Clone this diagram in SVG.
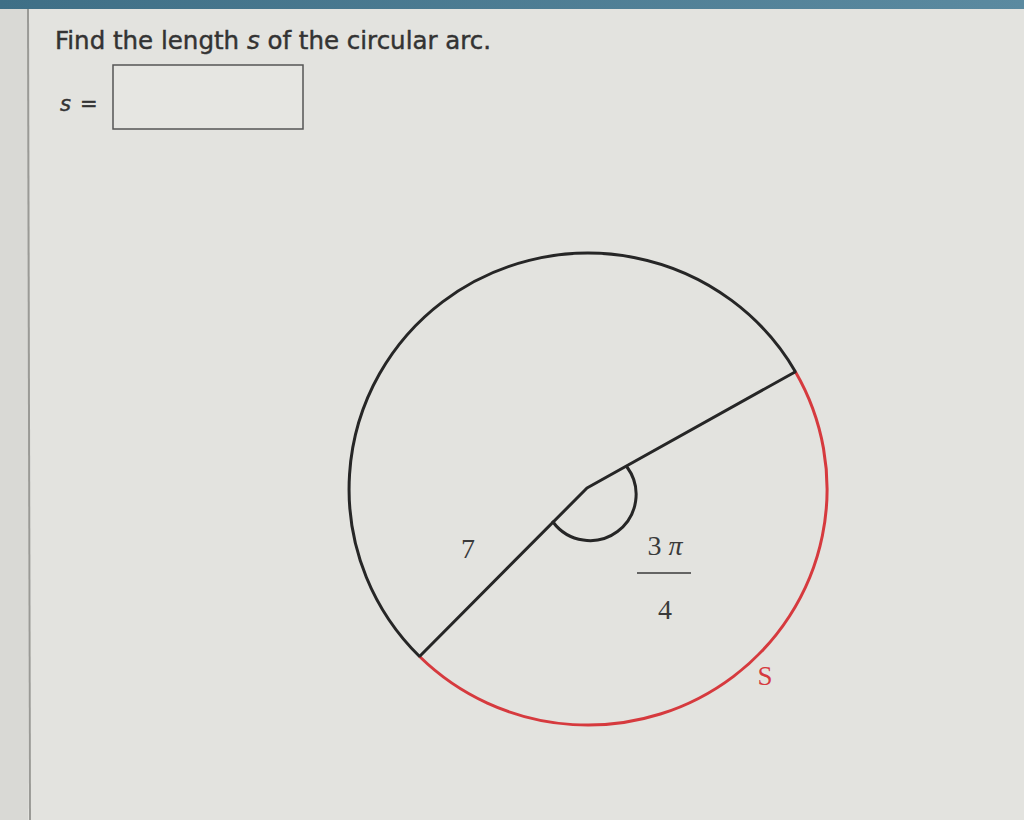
<svg xmlns="http://www.w3.org/2000/svg" width="1024" height="820" viewBox="0 0 1024 820">
<defs>
<linearGradient id="bar" x1="0" y1="0" x2="1" y2="0"><stop offset="0" stop-color="#3f6f86"/><stop offset="1" stop-color="#5b8aa0"/></linearGradient>
<style>
.q{font-family:"DejaVu Sans",Verdana,sans-serif;fill:#333;stroke:#333;stroke-width:0.45}
.m{font-family:"Liberation Serif","DejaVu Serif",serif;fill:#3a3a3a}
.ln{fill:none;stroke:#262626;stroke-width:3;stroke-linecap:round;stroke-linejoin:round}
.red{fill:none;stroke:#d63a3e;stroke-width:3}
</style>
</defs>
<rect x="0" y="0" width="1024" height="820" fill="#e3e3df"/>
<rect x="0" y="0" width="28" height="820" fill="#d9d9d5"/>
<rect x="0" y="0" width="1024" height="9" fill="url(#bar)"/>
<line x1="28" y1="9" x2="30" y2="820" stroke="#9a9a96" stroke-width="2"/>
<g id="question">
<text class="q" x="55" y="49" font-size="24.5">Find the length <tspan font-style="italic">s</tspan> of the circular arc.</text>
<text class="q" x="60" y="111" font-size="21" font-style="italic">s</text>
<text class="q" x="80" y="111" font-size="21">=</text>
<rect x="113" y="65" width="190" height="64" fill="#e6e6e2" stroke="#555" stroke-width="1.5"/>
</g>
<g id="circle">
<path class="ln" d="M419.6,656.5 A239,236 0 1 1 795.4,371.7"/>
<path class="red" d="M795.4,371.7 A239,236 0 0 1 419.6,656.5"/>
</g>
<g id="connectors">
<polyline class="ln" points="420,656 587,488 795,372"/>
<path class="ln" d="M553,522 A46,46 0 0 0 627,467"/>
</g>
<g id="labels">
<text class="m" x="468" y="558" font-size="28" text-anchor="middle">7</text>
<text class="m" x="665" y="555" font-size="28" text-anchor="middle">3 <tspan font-style="italic">π</tspan></text>
<line x1="637" y1="573" x2="691" y2="573" stroke="#3a3a3a" stroke-width="1.5"/>
<text class="m" x="665" y="619" font-size="28" text-anchor="middle">4</text>
<text class="m" x="765" y="685" font-size="27" text-anchor="middle" style="fill:#d63a3e">S</text>
</g>
</svg>
